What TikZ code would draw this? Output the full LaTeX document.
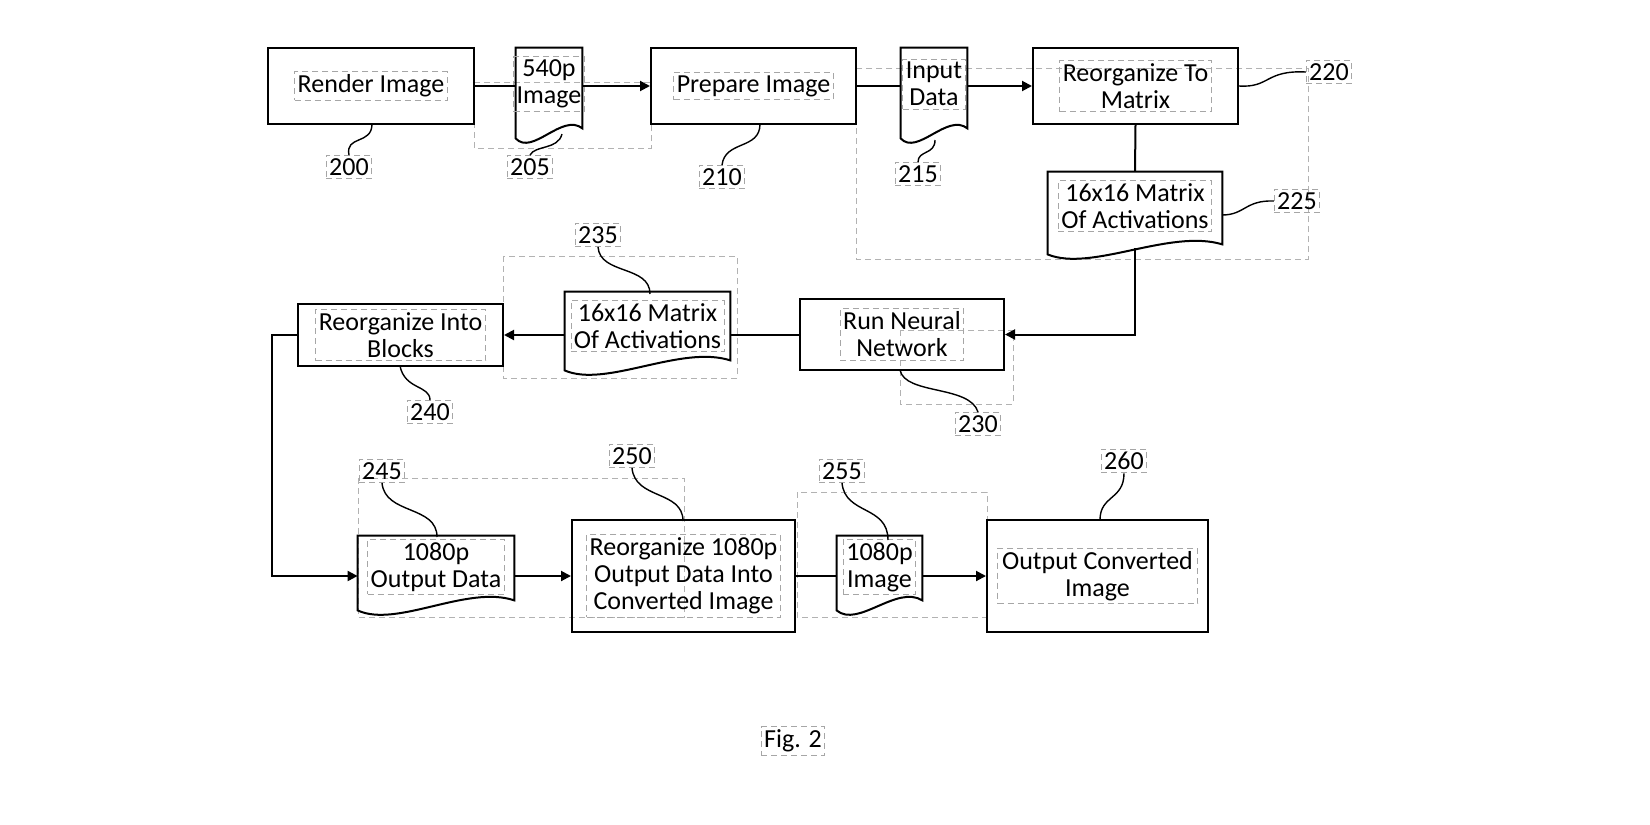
\documentclass[tikz,border=0pt]{standalone}
\usepackage{fontspec}
\setmainfont{Carlito}
\usetikzlibrary{calc,arrows.meta}
\tikzset{
 box/.style={draw,line width=1pt,inner sep=0pt},
 dshape/.style={inner sep=0pt},
 tb/.style={draw=gray!70,densely dashed,line width=0.4pt,inner sep=1.5pt,align=center,font=\fontsize{13}{13.5}\selectfont},
 lab/.style={draw=gray!70,densely dashed,line width=0.4pt,inner sep=1.5pt,font=\fontsize{13}{13}\selectfont},
 big/.style={draw=gray!60,densely dashed,line width=0.4pt},
 conn/.style={line width=1pt},
 arr/.style={line width=1pt,-{Triangle[length=5pt,width=5pt]}},
 lead/.style={line width=0.7pt}
}
\newcommand\docwave[1]{\draw[line width=1pt] (#1.north west) -- (#1.north east) -- ([yshift=6pt]#1.south east) .. controls ($(#1.south)!0.4!(#1.south east)+(0,14pt)$) and ($(#1.south)!0.5!(#1.south west)+(0,-8pt)$) .. ([yshift=1pt]#1.south west) -- cycle;}
\begin{document}
\begin{tikzpicture}[x=0.5pt,y=-0.5pt]
\useasboundingbox[fill=white] (0,0) rectangle (1650,825);
% big dashed regions
\draw[big] (474,82) rectangle (651,148);
\draw[big] (856,68) rectangle (1308,259);
\draw[big] (503,256) rectangle (737,378);
\draw[big] (900,330) rectangle (1013,404);
\draw[big] (358,478) rectangle (684,617);
\draw[big] (797,492) rectangle (987,617);
% row 1
\node[box,minimum width=103pt,minimum height=38pt] (render) at (371,86) {};
\node[tb] (renderT) at (render) {Render Image};
\node[dshape,minimum width=33pt,minimum height=46pt] (img540) at (549,94) {};
\docwave{img540}
\node[tb] (img540T) at (549,84) {540p\\Image};
\node[box,minimum width=102.5pt,minimum height=38pt] (prep) at (753.5,86) {};
\node[tb] (prepT) at (prep) {Prepare Image};
\node[dshape,minimum width=33pt,minimum height=46pt] (input) at (934,94) {};
\docwave{input}
\node[tb] (inputT) at (934,84) {Input\\Data};
\node[box,minimum width=102.5pt,minimum height=38pt] (reorg) at (1135.5,86) {};
\node[tb,minimum width=75pt] (reorgT) at (reorg) {Reorganize To\\Matrix};
\node[dshape,minimum width=87pt,minimum height=42pt] (mat1) at (1135,214) {};
\docwave{mat1}
\node[tb] (mat1T) at (1135,206) {16x16 Matrix\\Of Activations};
% row 2
\node[box,minimum width=102pt,minimum height=35.5pt] (nn) at (902,334.5) {};
\node[tb] (nnT) at (902,334.5) {Run Neural\\Network};
\node[dshape,minimum width=82.5pt,minimum height=40pt] (mat2) at (647.5,332) {};
\docwave{mat2}
\node[tb] (mat2T) at (647.5,326) {16x16 Matrix\\Of Activations};
\node[box,minimum width=102.5pt,minimum height=31pt] (blocks) at (400.5,335) {};
\node[tb,minimum width=85pt] (blocksT) at (blocks) {Reorganize Into\\Blocks};
% row 3
\node[dshape,minimum width=78pt,minimum height=38pt] (out1080) at (436,574) {};
\docwave{out1080}
\node[tb] (out1080T) at (436,567) {1080p\\Output Data};
\node[box,minimum width=111.5pt,minimum height=56pt] (reorg1080) at (683.5,576) {};
\node[tb] (reorg1080T) at (reorg1080) {Reorganize 1080p\\Output Data Into\\Converted Image};
\node[dshape,minimum width=42.5pt,minimum height=38pt] (img1080) at (879.5,574) {};
\docwave{img1080}
\node[tb] (img1080T) at (879.5,567) {1080p\\Image};
\node[box,minimum width=110.5pt,minimum height=56pt] (outconv) at (1097.5,576) {};
\node[tb,minimum width=100pt] (outconvT) at (outconv) {Output Converted\\Image};
% connectors
\draw[conn] (render.east) -- (img540.west |- render.east);
\draw[arr] (img540.east |- render.east) -- (prep.west);
\draw[conn] (prep.east) -- (input.west |- prep.east);
\draw[arr] (input.east |- prep.east) -- (reorg.west);
\draw[conn] (reorg.south) -- (mat1.north);
\draw[arr] ([yshift=4pt]mat1.south) |- (nn.east);
\draw[conn] (nn.west) -- (mat2.east |- nn.west);
\draw[arr] (mat2.west |- blocks.east) -- (blocks.east);
\coordinate (c2) at (272,335);
\coordinate (c3) at (272,576);
\draw[arr] (blocks.west) -- (c2) -- (c3) -- (out1080.west |- c3);
\draw[arr] (out1080.east |- c3) -- (reorg1080.west);
\draw[conn] (reorg1080.east) -- (img1080.west |- c3);
\draw[arr] (img1080.east |- c3) -- (outconv.west);
% labels
\node[lab] (l200) at (349,167) {200};
\node[lab] (l205) at (530,167) {205};
\node[lab] (l210) at (722,177) {210};
\node[lab] (l215) at (918,174) {215};
\node[lab] (l220) at (1329,72) {220};
\node[lab] (l225) at (1297,201) {225};
\node[lab] (l235) at (598,235) {235};
\node[lab] (l230) at (978,424) {230};
\node[lab] (l240) at (430,412) {240};
\node[lab] (l245) at (382,471) {245};
\node[lab] (l250) at (632,456) {250};
\node[lab] (l255) at (842,471) {255};
\node[lab] (l260) at (1124,461) {260};
\node[lab] (fig) at (793,741) {Fig. 2};
% leaders
\draw[lead] (372,124) .. controls (372,145) and (345,135) .. (l200.north);
\draw[lead] (562,134) .. controls (558,150) and (535,145) .. (l205.north);
\draw[lead] (760,124) .. controls (760,150) and (725,140) .. (l210.north);
\draw[lead] (935,140) .. controls (935,155) and (918,150) .. (l215.north);
\draw[lead] (reorg.east) .. controls (1270,88) and (1265,70) .. (l220.west);
\draw[lead] (1222,215) .. controls (1245,215) and (1245,200) .. (l225.west);
\draw[lead] (l235.south) .. controls (600,275) and (650,265) .. (650,294);
\draw[lead] (900,370) .. controls (905,395) and (970,385) .. (l230.north);
\draw[lead] (400,366) .. controls (405,390) and (430,385) .. (l240.north);
\draw[lead] (l245.south) .. controls (385,515) and (437,505) .. (437,537);
\draw[lead] (l250.south) .. controls (635,500) and (683,490) .. (683,521);
\draw[lead] (l255.south) .. controls (845,515) and (888,505) .. (888,540);
\draw[lead] (l260.south) .. controls (1124,500) and (1100,495) .. (1100,520);
\end{tikzpicture}
\end{document}
